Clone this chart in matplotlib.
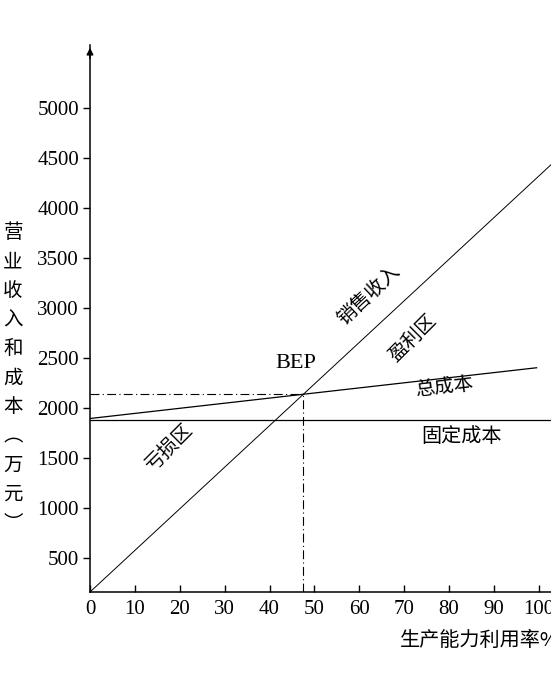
import matplotlib.pyplot as plt

# capacity utilisation (%) and values (10k yuan)
x_ticks = [0, 10, 20, 30, 40, 50, 60, 70, 80, 90, 100]
y_ticks = [500, 1000, 1500, 2000, 2500, 3000, 3500, 4000, 4500, 5000]

revenue_x = [0, 104]
revenue_y = [160, 160 + 41.6 * 104]
total_cost_x = [0, 99.5]
total_cost_y = [1895, 1895 + 5.1 * 99.5]
fixed_cost_x = [0, 104]
fixed_cost_y = [1878, 1878]

cjk = ['Noto Sans CJK SC', 'DejaVu Sans']
serif = 'Liberation Serif'

fig = plt.figure(figsize=(5.51, 6.89), dpi=100)
ax = fig.add_axes([90 / 551, 97 / 689, (555 - 90) / 551, (592 - 45) / 689])
ax.set_xlim(0, 103.6)
ax.set_ylim(160, 5630)

for s in ['top', 'right']:
    ax.spines[s].set_visible(False)
for s in ['left', 'bottom']:
    ax.spines[s].set_linewidth(1.1)

ax.plot(revenue_x, revenue_y, color='black', lw=0.7)
ax.plot(total_cost_x, total_cost_y, color='black', lw=0.9)
ax.plot(fixed_cost_x, fixed_cost_y, color='black', lw=0.9)

# break-even point
k_r = (revenue_y[1] - revenue_y[0]) / (revenue_x[1] - revenue_x[0])
k_c = (total_cost_y[1] - total_cost_y[0]) / (total_cost_x[1] - total_cost_x[0])
x_bep = (total_cost_y[0] - revenue_y[0]) / (k_r - k_c)
y_bep = revenue_y[0] + k_r * x_bep
ax.plot([0, x_bep], [y_bep, y_bep], color='black', lw=0.8, ls=(0, (8, 3, 1, 3)))
ax.plot([x_bep, x_bep], [160, y_bep], color='black', lw=0.8, ls=(0, (8, 3, 1, 3)))

# axis arrow at the top
ax.annotate('', xy=(0, 1.0), xytext=(0, 0.97), xycoords='axes fraction',
            arrowprops=dict(arrowstyle='-|>', color='black', lw=1, mutation_scale=10))

ax.set_xticks(x_ticks)
ax.set_xticklabels([str(v) for v in x_ticks], fontfamily=serif, fontsize=15)
ax.set_yticks(y_ticks)
ax.set_yticklabels([str(v) for v in y_ticks], fontfamily=serif, fontsize=15)
ax.tick_params(axis='x', direction='in', length=5, width=1, pad=6)
ax.tick_params(axis='y', direction='out', length=5, width=1, pad=3)

ax.text(45.8, 2450, 'BEP', fontfamily=serif, fontsize=16, ha='center', va='center')
ax.text(62, 3130, '销售收入', family=cjk, fontsize=14, rotation=43, ha='center', va='center')
ax.text(72, 2700, '盈利区', family=cjk, fontsize=14, rotation=45, ha='center', va='center')
ax.text(79, 2210, '总成本', family=cjk, fontsize=14, rotation=7, ha='center', va='center')
ax.text(82.7, 1720, '固定成本', family=cjk, fontsize=14.5, ha='center', va='center')
ax.text(17.6, 1610, '亏损区', family=cjk, fontsize=14, rotation=45, ha='center', va='center')

fig.text(400 / 551, 1 - 640 / 689, '生产能力利用率%', family=cjk, fontsize=14.5,
         ha='left', va='center')
fig.text(13 / 551, 1 - 378 / 689, '\n'.join('营业收入和成本︵万元︶'), family=cjk,
         fontsize=14, ha='center', va='center', linespacing=1.5)

fig.savefig('out.png', dpi=100)
